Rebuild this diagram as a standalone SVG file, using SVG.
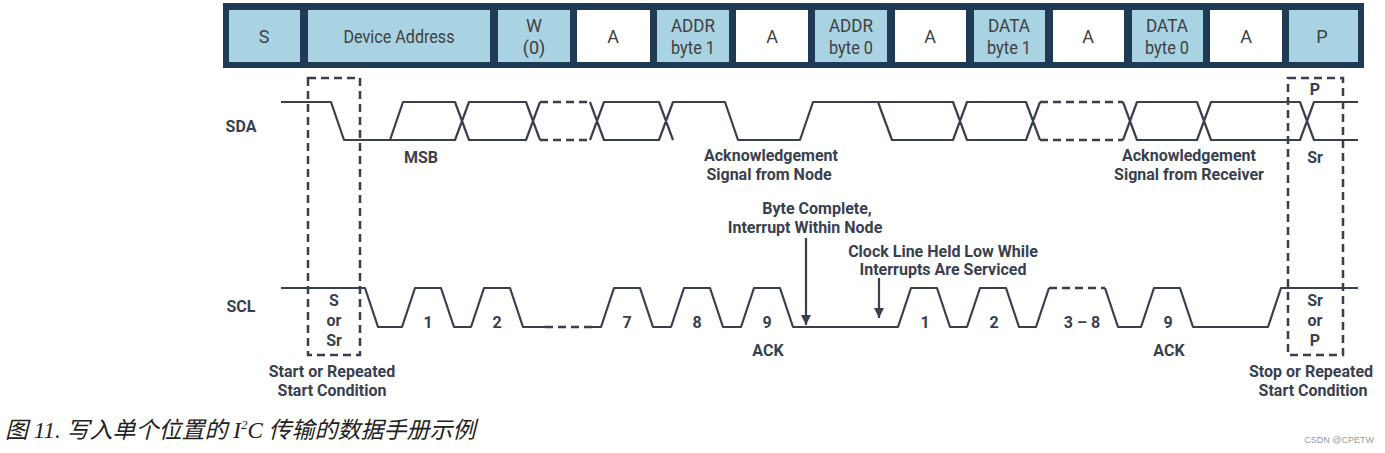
<svg xmlns="http://www.w3.org/2000/svg" width="1385" height="453" viewBox="0 0 1385 453">
<style>
.c{fill:#a9d3e3}.w{fill:#fff}
.t{font-family:Roboto,"Liberation Sans",sans-serif;font-size:18px;fill:#404040;text-anchor:middle}
.l{font-family:Roboto,"Liberation Sans",sans-serif;font-weight:bold;font-size:16px;fill:#3a3f4f;text-anchor:middle}
.s{fill:none;stroke:#3a3f4f;stroke-width:2.2;stroke-linejoin:round}
.d{fill:none;stroke:#3a3f4f;stroke-width:2.5;stroke-dasharray:8 5}
</style>
<defs>
<marker id="a2" viewBox="0 0 10 10" refX="10" refY="5" markerWidth="12" markerHeight="10" orient="auto" markerUnits="userSpaceOnUse"><path d="M0,0L10,5L0,10z" fill="#3a3f4f"/></marker></defs>
<rect width="1385" height="453" fill="#fff"/>
<g id="frame">
<rect x="223" y="3" width="1141" height="65" fill="#1f3a55"/>
<rect class="c" x="229" y="10" width="71" height="52"/><text class="t" x="264" y="43">S</text>
<rect class="c" x="308" y="10" width="182" height="52"/><text class="t" x="399" y="43" textLength="111" lengthAdjust="spacingAndGlyphs">Device Address</text>
<rect class="c" x="498" y="10" width="72" height="52"/><text class="t" x="534" y="32">W</text><text class="t" x="534" y="54">(0)</text>
<rect class="w" x="577" y="10" width="73" height="52"/><text class="t" x="613" y="43">A</text>
<rect class="c" x="657" y="10" width="72" height="52"/><text class="t" x="693" y="32" textLength="44" lengthAdjust="spacingAndGlyphs">ADDR</text><text class="t" x="693" y="54" textLength="44" lengthAdjust="spacingAndGlyphs">byte 1</text>
<rect class="w" x="736" y="10" width="72" height="52"/><text class="t" x="772" y="43">A</text>
<rect class="c" x="815" y="10" width="72" height="52"/><text class="t" x="851" y="32" textLength="44" lengthAdjust="spacingAndGlyphs">ADDR</text><text class="t" x="851" y="54" textLength="44" lengthAdjust="spacingAndGlyphs">byte 0</text>
<rect class="w" x="895" y="10" width="71" height="52"/><text class="t" x="930" y="43">A</text>
<rect class="c" x="974" y="10" width="71" height="52"/><text class="t" x="1009" y="32" textLength="42" lengthAdjust="spacingAndGlyphs">DATA</text><text class="t" x="1009" y="54" textLength="44" lengthAdjust="spacingAndGlyphs">byte 1</text>
<rect class="w" x="1053" y="10" width="71" height="52"/><text class="t" x="1088" y="43">A</text>
<rect class="c" x="1132" y="10" width="71" height="52"/><text class="t" x="1167" y="32" textLength="42" lengthAdjust="spacingAndGlyphs">DATA</text><text class="t" x="1167" y="54" textLength="44" lengthAdjust="spacingAndGlyphs">byte 0</text>
<rect class="w" x="1210" y="10" width="72" height="52"/><text class="t" x="1246" y="43">A</text>
<rect class="c" x="1289" y="10" width="69" height="52"/><text class="t" x="1322" y="43">P</text>
</g>
<g id="connectors">
<path class="s" d="M281,102H331L344,140H455L469,102H526L540,140M390,140L403,102H455L469,140H526L540,102"/>
<path class="d" d="M540,102H590M540,140H590"/>
<path class="s" d="M590,102L604,140H659L673,102H725L738,140H800L813,102H878L892,140H953L967,102H1026L1040,140M590,140L604,102H659L673,140M878,102L892,102M892,102H953L967,140H1026L1040,102"/>
<path class="d" d="M1040,102H1123M1040,140H1123"/>
<path class="s" d="M1123,102L1137,140H1197L1211,102H1300L1314,140H1358M1123,140L1137,102H1197L1211,140H1300L1314,102H1358"/>
<path class="s" d="M281,288H365L378,327H402L415,288H441L454,327H471L484,288H510L523,327H545"/>
<path class="d" d="M545,327H592"/>
<path class="s" d="M592,327H601L614,288H640L653,327H671L684,288H710L723,327H741L754,288H780L793,327H898L911,288H937L950,327H967L980,288H1006L1019,327H1036L1049,288"/>
<path class="d" d="M1049,288H1105"/>
<path class="s" d="M1105,288L1118,327H1141L1154,288H1180L1193,327H1268L1281,288H1358"/>
<line x1="806" y1="238" x2="806" y2="325" stroke="#3a3f4f" stroke-width="2.2" marker-end="url(#a2)"/>
<line x1="879" y1="278" x2="879" y2="318" stroke="#3a3f4f" stroke-width="2.2" marker-end="url(#a2)"/>
<rect class="d" x="308" y="78" width="52" height="277"/>
<rect class="d" x="1288" y="78" width="55" height="277"/>
</g>
<g id="labels">
<text class="l" x="241" y="132">SDA</text><text class="l" x="241" y="312">SCL</text>
<text class="l" x="421" y="163">MSB</text>
<text class="l" x="771" y="161">Acknowledgement</text><text class="l" x="769" y="180">Signal from Node</text>
<text class="l" x="1189" y="161">Acknowledgement</text><text class="l" x="1189" y="180">Signal from Receiver</text>
<text class="l" x="1315" y="95">P</text><text class="l" x="1315" y="163">Sr</text>
<text class="l" x="817" y="214">Byte Complete,</text><text class="l" x="805" y="233">Interrupt Within Node</text>
<text class="l" x="943" y="257">Clock Line Held Low While</text><text class="l" x="943" y="275">Interrupts Are Serviced</text>
<text class="l" x="334" y="306">S</text><text class="l" x="334" y="326">or</text><text class="l" x="334" y="346">Sr</text>
<text class="l" x="1315" y="306">Sr</text><text class="l" x="1315" y="326">or</text><text class="l" x="1315" y="346">P</text>
<text class="l" x="428" y="328">1</text><text class="l" x="497" y="328">2</text><text class="l" x="627" y="328">7</text><text class="l" x="697" y="328">8</text><text class="l" x="767" y="328">9</text>
<text class="l" x="925" y="328">1</text><text class="l" x="994" y="328">2</text><text class="l" x="1082" y="328">3 – 8</text><text class="l" x="1168" y="328">9</text>
<text class="l" x="768" y="356">ACK</text><text class="l" x="1169" y="356">ACK</text>
<text class="l" x="332" y="377">Start or Repeated</text><text class="l" x="332" y="396">Start Condition</text>
<text class="l" x="1311" y="377">Stop or Repeated</text><text class="l" x="1313" y="396">Start Condition</text>
<text x="5" y="438" font-family="'Liberation Serif','Noto Sans CJK SC',serif" font-style="italic" font-size="23" fill="#222">图 11. 写入单个位置的 I<tspan font-size="13" dy="-9">2</tspan><tspan dy="9">C 传输的数据手册示例</tspan></text>
<text x="1374" y="443" text-anchor="end" font-family="'Liberation Sans',sans-serif" font-size="9" fill="#999">CSDN @CPETW</text>
</g>
</svg>
